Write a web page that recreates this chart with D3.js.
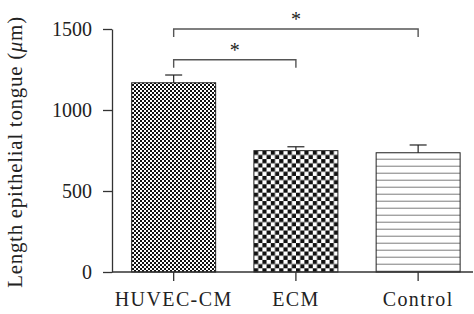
<!DOCTYPE html>
<html>
<head>
<meta charset="utf-8">
<script src="https://cdn.jsdelivr.net/npm/d3@7"></script>
<style>
  body { margin: 0; background: #fff; }
  svg text { font-family: "Liberation Serif", "DejaVu Serif", "Tinos", "Times New Roman", serif; fill: #222; }
</style>
</head>
<body>
<svg id="chart" width="474" height="314"></svg>
<script>
// 数据
const groups = ["HUVEC-CM", "ECM", "Control"];
const means = [1168, 749, 736];
const sems = [48, 24, 48];
const yTicks = [0, 500, 1000, 1500];
// 显著性比较: [from, to, level]
const compFrom = [0, 0];
const compTo = [2, 1];
const compLevel = [1500, 1310];
const compLabel = ["*", "*"];

const svg = d3.select("#chart");
const axisColor = "#333";
const serif = "'Liberation Serif', 'DejaVu Serif', serif";

const x = d3.scaleBand()
  .domain(groups)
  .range([112, 479.8])
  .paddingInner(0.313)
  .paddingOuter(0.161);

const y = d3.scaleLinear()
  .domain([0, 1500])
  .range([272, 29]);

// 填充图案
const defs = svg.append("defs");

// 细棋盘
const p1 = defs.append("pattern").attr("id", "fineCheck")
  .attr("patternUnits", "userSpaceOnUse").attr("width", 4).attr("height", 4);
p1.append("rect").attr("width", 4).attr("height", 4).attr("fill", "#fff");
p1.append("rect").attr("width", 2).attr("height", 2).attr("fill", "#111");
p1.append("rect").attr("x", 2).attr("y", 2).attr("width", 2).attr("height", 2).attr("fill", "#111");

// 粗棋盘
const p2 = defs.append("pattern").attr("id", "bigCheck")
  .attr("patternUnits", "userSpaceOnUse").attr("width", 8.4).attr("height", 8.4)
  .attr("x", 254).attr("y", 150.7);
p2.append("rect").attr("width", 8.4).attr("height", 8.4).attr("fill", "#fff");
p2.append("rect").attr("width", 4.2).attr("height", 4.2).attr("fill", "#111");
p2.append("rect").attr("x", 4.2).attr("y", 4.2).attr("width", 4.2).attr("height", 4.2).attr("fill", "#111");

// 横线
const p3 = defs.append("pattern").attr("id", "hLines")
  .attr("patternUnits", "userSpaceOnUse").attr("width", 10).attr("height", 7)
  .attr("y", 152.7);
p3.append("rect").attr("width", 10).attr("height", 7).attr("fill", "#fff");
p3.append("rect").attr("y", 6.3).attr("width", 10).attr("height", 1.1).attr("fill", "#444");

const fills = ["url(#fineCheck)", "url(#bigCheck)", "url(#hLines)"];

// 柱子
svg.append("g")
  .selectAll("rect")
  .data(groups)
  .join("rect")
  .attr("x", d => x(d))
  .attr("y", (d, i) => y(means[i]))
  .attr("width", x.bandwidth())
  .attr("height", (d, i) => y(0) - y(means[i]))
  .attr("fill", (d, i) => fills[i])
  .attr("stroke", "#222")
  .attr("stroke-width", 1);

// 误差棒
const eb = svg.append("g").attr("stroke", "#222").attr("stroke-width", 1.2);
groups.forEach((g, i) => {
  const cx = x(g) + x.bandwidth() / 2;
  eb.append("line")
    .attr("x1", cx).attr("x2", cx)
    .attr("y1", y(means[i])).attr("y2", y(means[i] + sems[i]));
  eb.append("line")
    .attr("x1", cx - 8.5).attr("x2", cx + 8.5)
    .attr("y1", y(means[i] + sems[i])).attr("y2", y(means[i] + sems[i]));
});

// Y 轴
const yAxis = svg.append("g")
  .attr("transform", "translate(112,0)")
  .call(d3.axisLeft(y).tickValues(yTicks).tickFormat(d3.format("d"))
    .tickSize(9).tickSizeOuter(0).tickPadding(11))
  .attr("font-family", serif);
yAxis.select(".domain").attr("stroke", axisColor).attr("stroke-width", 1.3);
yAxis.selectAll(".tick line").attr("stroke", axisColor).attr("stroke-width", 1.3);
yAxis.selectAll(".tick text")
  .attr("font-size", 20)
  .attr("fill", "#222");

// X 轴
const xAxis = svg.append("g")
  .attr("transform", "translate(0,272)")
  .call(d3.axisBottom(x).tickSize(9).tickSizeOuter(0).tickPadding(11))
  .attr("font-family", serif);
xAxis.select(".domain").remove();
xAxis.append("line")
  .attr("x1", 112).attr("x2", 473)
  .attr("stroke", axisColor).attr("stroke-width", 1.3);
xAxis.selectAll(".tick line").attr("stroke", axisColor).attr("stroke-width", 1.3);
xAxis.selectAll(".tick text")
  .attr("font-size", 20)
  .attr("fill", "#222")
  .attr("letter-spacing", 1.4);

// Y 轴标题
svg.append("text")
  .attr("transform", "translate(22,152) rotate(-90)")
  .attr("text-anchor", "middle")
  .attr("font-family", serif)
  .attr("font-size", 21)
  .attr("letter-spacing", 0.7)
  .html('Length epithelial tongue (<tspan font-style="italic">μ</tspan>m)');

// 显著性括号
const br = svg.append("g");
compFrom.forEach((f, k) => {
  const x1 = x(groups[f]) + x.bandwidth() / 2;
  const x2 = x(groups[compTo[k]]) + x.bandwidth() / 2;
  const yy = y(compLevel[k]);
  br.append("path")
    .attr("d", `M${x1},${yy + 8}V${yy}H${x2}V${yy + 8}`)
    .attr("fill", "none")
    .attr("stroke", "#555")
    .attr("stroke-width", 1.4);
  br.append("text")
    .attr("x", (x1 + x2) / 2)
    .attr("y", yy - 3)
    .attr("text-anchor", "middle")
    .attr("font-family", serif)
    .attr("font-size", 20)
    .attr("fill", "#444")
    .text(compLabel[k]);
});
</script>
</body>
</html>
